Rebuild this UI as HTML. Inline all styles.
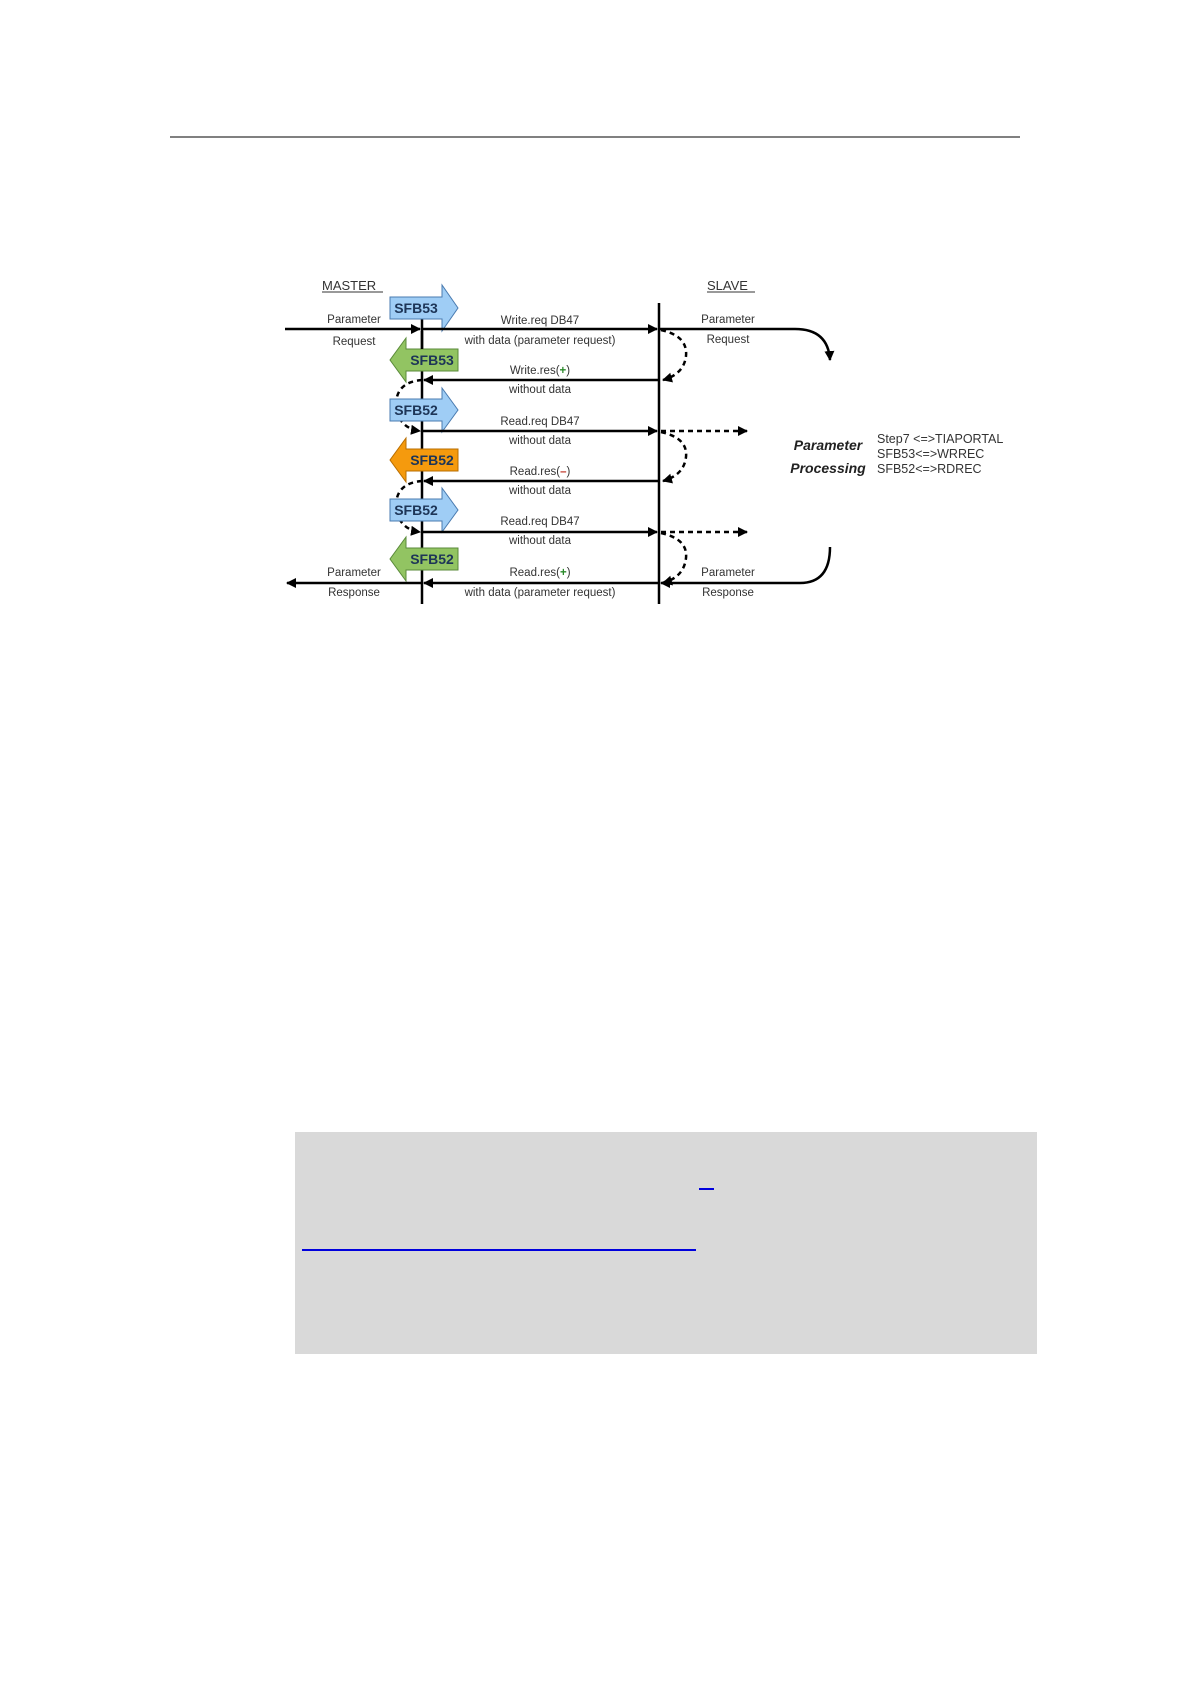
<!DOCTYPE html>
<html><head><meta charset="utf-8"><style>
html,body{margin:0;padding:0;background:#fff;}
body{width:1192px;height:1685px;position:relative;overflow:hidden;}
svg{position:absolute;left:0;top:0;}
.t{font-family:"Liberation Sans",sans-serif;font-size:11.5px;fill:#333;}
.s{font-family:"Liberation Sans",sans-serif;font-size:14px;font-weight:bold;fill:#1d3557;}
</style></head><body>
<svg width="1192" height="1685" viewBox="0 0 1192 1685">
<defs>
<marker id="ah" markerWidth="10" markerHeight="10" refX="9" refY="5" orient="auto" markerUnits="userSpaceOnUse">
<path d="M0,0 L10,5 L0,10 Z" fill="#000"/></marker>
</defs>
<line x1="170" y1="137" x2="1020" y2="137" stroke="#000" stroke-width="1"/>

<text x="322" y="290" class="t" style="font-size:13px">MASTER</text>
<line x1="322" y1="292" x2="383" y2="292" stroke="#333" stroke-width="1"/>
<text x="707" y="290" class="t" style="font-size:13px">SLAVE</text>
<line x1="707" y1="292" x2="755" y2="292" stroke="#333" stroke-width="1"/>

<!-- master-side dashed arcs (behind arrows) -->
<g stroke="#000" stroke-width="2.5" fill="none" stroke-dasharray="5,4">
<path d="M422,380 Q396,382 396,405 Q398,428 420,431" marker-end="url(#ah)"/>
<path d="M422,481 Q396,483 396,506 Q398,529 420,532" marker-end="url(#ah)"/>
</g>

<!-- lifelines -->
<line x1="422" y1="318" x2="422" y2="604" stroke="#000" stroke-width="2.5"/>
<line x1="659" y1="303" x2="659" y2="604" stroke="#000" stroke-width="2.5"/>

<!-- SFB arrows -->
<g stroke-width="1">
<path d="M390,297 H442 V285 L458,308 L442,331 V319 H390 Z" fill="#9fcdf5" stroke="#4a7bb0"/>
<text x="416" y="313" class="s" text-anchor="middle">SFB53</text>
<path d="M458,349 H406 V338 L390,360 L406,382 V371 H458 Z" fill="#92c462" stroke="#5a8a3a"/>
<text x="432" y="365" class="s" text-anchor="middle">SFB53</text>
<path d="M390,399 H442 V388 L458,410 L442,432 V421 H390 Z" fill="#9fcdf5" stroke="#4a7bb0"/>
<text x="416" y="415" class="s" text-anchor="middle">SFB52</text>
<path d="M458,449 H406 V438 L390,460 L406,482 V471 H458 Z" fill="#f59a0d" stroke="#b86d00"/>
<text x="432" y="465" class="s" text-anchor="middle">SFB52</text>
<path d="M390,499 H442 V488 L458,510 L442,532 V521 H390 Z" fill="#9fcdf5" stroke="#4a7bb0"/>
<text x="416" y="515" class="s" text-anchor="middle">SFB52</text>
<path d="M458,548 H406 V537 L390,559 L406,581 V570 H458 Z" fill="#92c462" stroke="#5a8a3a"/>
<text x="432" y="564" class="s" text-anchor="middle">SFB52</text>
</g>
<line x1="422" y1="331" x2="422" y2="349" stroke="#000" stroke-width="2.5"/>

<!-- message lines -->
<g stroke="#000" stroke-width="2.5" fill="none">
<line x1="285" y1="329" x2="420" y2="329" marker-end="url(#ah)"/>
<line x1="422" y1="329" x2="657" y2="329" marker-end="url(#ah)"/>
<line x1="659" y1="380" x2="424" y2="380" marker-end="url(#ah)"/>
<line x1="422" y1="431" x2="657" y2="431" marker-end="url(#ah)"/>
<line x1="659" y1="481" x2="424" y2="481" marker-end="url(#ah)"/>
<line x1="422" y1="532" x2="657" y2="532" marker-end="url(#ah)"/>
<line x1="659" y1="583" x2="424" y2="583" marker-end="url(#ah)"/>
<line x1="422" y1="583" x2="287" y2="583" marker-end="url(#ah)"/>
<path d="M659,329 H795 Q828,329 830,360" marker-end="url(#ah)"/>
<path d="M830,547 Q830,583 800,583 H661" marker-end="url(#ah)"/>
</g>
<g stroke="#000" stroke-width="2.5" fill="none" stroke-dasharray="5,4">
<path d="M661,330 Q688,336 686,356 Q684,374 663,380" marker-end="url(#ah)"/>
<path d="M661,432 Q688,438 686,457 Q684,475 663,481" marker-end="url(#ah)"/>
<path d="M661,533 Q688,539 686,558 Q684,577 663,583" marker-end="url(#ah)"/>
<line x1="661" y1="431" x2="747" y2="431" marker-end="url(#ah)"/>
<line x1="661" y1="532" x2="747" y2="532" marker-end="url(#ah)"/>
</g>

<!-- labels -->
<g class="t" text-anchor="middle">
<text x="354" y="323" class="t">Parameter</text>
<text x="354" y="345" class="t">Request</text>
<text x="540" y="324" class="t">Write.req DB47</text>
<text x="540" y="344" class="t">with data (parameter request)</text>
<text x="540" y="374" class="t">Write.res(<tspan fill="#2a8a2a" font-weight="bold">+</tspan>)</text>
<text x="540" y="393" class="t">without data</text>
<text x="540" y="425" class="t">Read.req DB47</text>
<text x="540" y="444" class="t">without data</text>
<text x="540" y="475" class="t">Read.res(<tspan fill="#c0392b" font-weight="bold">–</tspan>)</text>
<text x="540" y="494" class="t">without data</text>
<text x="540" y="525" class="t">Read.req DB47</text>
<text x="540" y="544" class="t">without data</text>
<text x="540" y="576" class="t">Read.res(<tspan fill="#2a8a2a" font-weight="bold">+</tspan>)</text>
<text x="540" y="596" class="t">with data (parameter request)</text>
<text x="354" y="576" class="t">Parameter</text>
<text x="354" y="596" class="t">Response</text>
<text x="728" y="323" class="t">Parameter</text>
<text x="728" y="343" class="t">Request</text>
<text x="728" y="576" class="t">Parameter</text>
<text x="728" y="596" class="t">Response</text>
<text x="828" y="450" class="t" style="font-size:14px;font-weight:bold;font-style:italic;fill:#222">Parameter</text>
<text x="828" y="473" class="t" style="font-size:14px;font-weight:bold;font-style:italic;fill:#222">Processing</text>
</g>
<text x="877" y="443" class="t" style="font-size:12.5px">Step7 &lt;=&gt;TIAPORTAL</text>
<text x="877" y="458" class="t" style="font-size:12.5px">SFB53&lt;=&gt;WRREC</text>
<text x="877" y="473" class="t" style="font-size:12.5px">SFB52&lt;=&gt;RDREC</text>

<!-- grey note box -->
<rect x="295" y="1132" width="742" height="222" fill="#d9d9d9"/>
<line x1="302" y1="1250" x2="696" y2="1250" stroke="#0000dd" stroke-width="2"/>
<line x1="699" y1="1189" x2="714" y2="1189" stroke="#0000dd" stroke-width="2"/>
</svg>
</body></html>
